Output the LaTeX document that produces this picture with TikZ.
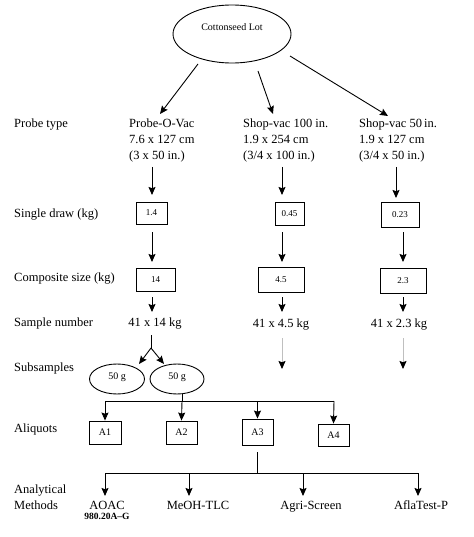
\documentclass[tikz,border=0pt]{standalone}
\usepackage{fontspec}
\setmainfont{Liberation Serif}
\usetikzlibrary{arrows.meta,shapes.geometric}
\tikzset{
  lab/.style={anchor=base west, inner sep=0, font=\fontsize{12.5bp}{15bp}\selectfont},
  txt/.style={anchor=base, inner sep=0, font=\fontsize{12.5bp}{15bp}\selectfont},
  bx/.style={draw, line width=0.9bp, inner sep=0, font=\fontsize{9bp}{10bp}\selectfont},
  ell/.style={draw, ellipse, line width=0.9bp, inner sep=0},
  arr/.style={-{Stealth[length=8bp,width=7bp,inset=1.2bp]}, line width=0.9bp},
  garr/.style={-{Stealth[length=8bp,width=7bp,inset=1.2bp,color=black]}, line width=0.9bp, draw=black!25},
  ln/.style={line width=0.9bp}
}
\begin{document}
\begin{tikzpicture}[x=1bp,y=-1bp]
\useasboundingbox (0,0) rectangle (474,537);
\fill[white] (0,0) rectangle (474,537);

% top ellipse
\node[ell, minimum width=118bp, minimum height=58bp, font=\fontsize{10bp}{12bp}\selectfont] (lot) at (232,34) {\raisebox{13bp}{Cottonseed Lot}};

% left labels
\node[lab] (Lprobe) at (14,127.5) {Probe type};
\node[lab] (Lsingle) at (14,217.5) {Single draw (kg)};
\node[lab] (Lcomp) at (14,281.5) {Composite size (kg)};
\node[lab] (Lsamp) at (14,326.5) {Sample number};
\node[lab] (Lsub) at (14,371) {Subsamples};
\node[lab] (Lali) at (14,432) {Aliquots};
\node[lab] (Lana) at (14,493) {Analytical};
\node[lab] (Lmeth) at (14,509) {Methods};

% probe columns
\node[lab] (p1a) at (129,127.5) {Probe-O-Vac};
\node[lab] (p1b) at (129,143.5) {7.6 x 127 cm};
\node[lab] (p1c) at (129,159.5) {(3 x 50 in.)};
\node[lab] (p2a) at (243,127.5) {Shop-vac 100 in.};
\node[lab] (p2b) at (243,143.5) {1.9 x 254 cm};
\node[lab] (p2c) at (243,159.5) {(3/4 x 100 in.)};
\node[lab] (p3a) at (359,128) {Shop-vac 50\,in.};
\node[lab] (p3b) at (359,144) {1.9 x 127 cm};
\node[lab] (p3c) at (359,160) {(3/4 x 50 in.)};

% single draw boxes
\node[bx, minimum width=31bp, minimum height=22bp] (b1) at (151.5,213) {1.4};
\node[bx, minimum width=29bp, minimum height=23bp] (b2) at (289.5,213.5) {0.45};
\node[bx, minimum width=38bp, minimum height=25bp] (b3) at (400,214.5) {0.23};

% composite boxes
\node[bx, minimum width=39bp, minimum height=23bp] (c1) at (155.5,279.5) {14};
\node[bx, minimum width=46bp, minimum height=25bp] (c2) at (281,279.5) {4.5};
\node[bx, minimum width=46bp, minimum height=25bp] (c3) at (403,280.5) {2.3};

% sample numbers
\node[txt] (s1) at (155,326.5) {41 x 14 kg};
\node[txt] (s2) at (281,327) {41 x 4.5 kg};
\node[txt] (s3) at (399,327) {41 x 2.3 kg};

% subsamples
\node[ell, minimum width=55bp, minimum height=30bp, font=\fontsize{10bp}{12bp}\selectfont] (e1) at (117,379) {\raisebox{5bp}{50 g}};
\node[ell, minimum width=54bp, minimum height=30bp, font=\fontsize{10bp}{12bp}\selectfont] (e2) at (177,379) {\raisebox{5bp}{50 g}};

% aliquots
\node[bx, minimum width=32bp, minimum height=23bp, font=\fontsize{10bp}{12bp}\selectfont] (a1) at (105,432.5) {A1};
\node[bx, minimum width=31bp, minimum height=23bp, font=\fontsize{10bp}{12bp}\selectfont] (a2) at (181.5,432.5) {A2};
\node[bx, minimum width=31bp, minimum height=26bp, font=\fontsize{10bp}{12bp}\selectfont] (a3) at (257.5,432) {A3};
\node[bx, minimum width=31bp, minimum height=22bp, font=\fontsize{10bp}{12bp}\selectfont] (a4) at (333.5,435) {A4};

% methods
\node[txt] (m1) at (107,509) {AOAC};
\node[txt, font=\fontsize{9.5bp}{11bp}\selectfont\bfseries] (m1b) at (107,519) {980.20A--G};
\node[txt] (m2) at (198,509) {MeOH-TLC};
\node[txt] (m3) at (311,509) {Agri-Screen};
\node[txt] (m4) at (421,509) {AflaTest-P};

% coordinates
\coordinate (l1s) at (198,64);  \coordinate (l1e) at (160,114);
\coordinate (l2s) at (258,71);  \coordinate (l2e) at (273,114);
\coordinate (l3s) at (290,56);  \coordinate (l3e) at (388,116);

\coordinate (q1s) at (152,167); \coordinate (q1e) at (152,195);
\coordinate (q2s) at (282,167); \coordinate (q2e) at (282,195);
\coordinate (q3s) at (396,167); \coordinate (q3e) at (396,198);

\coordinate (r1s) at (152,232); \coordinate (r1e) at (152,262);
\coordinate (r2s) at (282,232); \coordinate (r2e) at (282,262);
\coordinate (r3s) at (403,232); \coordinate (r3e) at (403,262);

\coordinate (t1s) at (152,297); \coordinate (t1e) at (152,312);
\coordinate (t2s) at (282,297); \coordinate (t2e) at (282,312);
\coordinate (t3s) at (403,297); \coordinate (t3e) at (403,312);

\coordinate (br0) at (151,335); \coordinate (br1) at (151,348);
\coordinate (br2) at (139,364); \coordinate (br3) at (164,364);

\coordinate (g2s) at (282,338); \coordinate (g2e) at (282,369);
\coordinate (g3s) at (403,338); \coordinate (g3e) at (403,369);

\coordinate (h0) at (182,401);
\coordinate (hL) at (105,401); \coordinate (hR) at (334,401);
\coordinate (h3) at (257.5,401);

\coordinate (k0) at (257.5,452); \coordinate (k1) at (257.5,473);
\coordinate (kL) at (105,473); \coordinate (kR) at (418,473);
\coordinate (k2) at (189,473); \coordinate (k3) at (303,473);
\coordinate (n1) at (105,496); \coordinate (n2) at (189,496);
\coordinate (n3) at (303,496); \coordinate (n4) at (418,496);

% connectors
\draw[arr] (l1s) -- (l1e);
\draw[arr] (l2s) -- (l2e);
\draw[arr] (l3s) -- (l3e);

\draw[arr] (q1s) -- (q1e);
\draw[arr] (q2s) -- (q2e);
\draw[arr] (q3s) -- (q3e);

\draw[arr] (r1s) -- (r1e);
\draw[arr] (r2s) -- (r2e);
\draw[arr] (r3s) -- (r3e);

\draw[arr] (t1s) -- (t1e);
\draw[arr] (t2s) -- (t2e);
\draw[arr] (t3s) -- (t3e);

\draw[ln] (br0) -- (br1);
\draw[arr] (br1) -- (br2);
\draw[arr] (br1) -- (br3);

\draw[garr] (g2s) -- (g2e);
\draw[garr] (g3s) -- (g3e);

\draw[ln] (e2.south -| h0) -- (h0);
\draw[ln] (hL) -- (hR);
\draw[arr] (hL) -- (a1.north);
\draw[arr] (h0) -- (a2.north);
\draw[arr] (h3) -- (a3.north);
\draw[arr] (hR) -- (a4.north);

\draw[ln] (k0) -- (k1);
\draw[ln] (kL) -- (kR);
\draw[arr] (kL) -- (n1);
\draw[arr] (k2) -- (n2);
\draw[arr] (k3) -- (n3);
\draw[arr] (kR) -- (n4);
\end{tikzpicture}
\end{document}
